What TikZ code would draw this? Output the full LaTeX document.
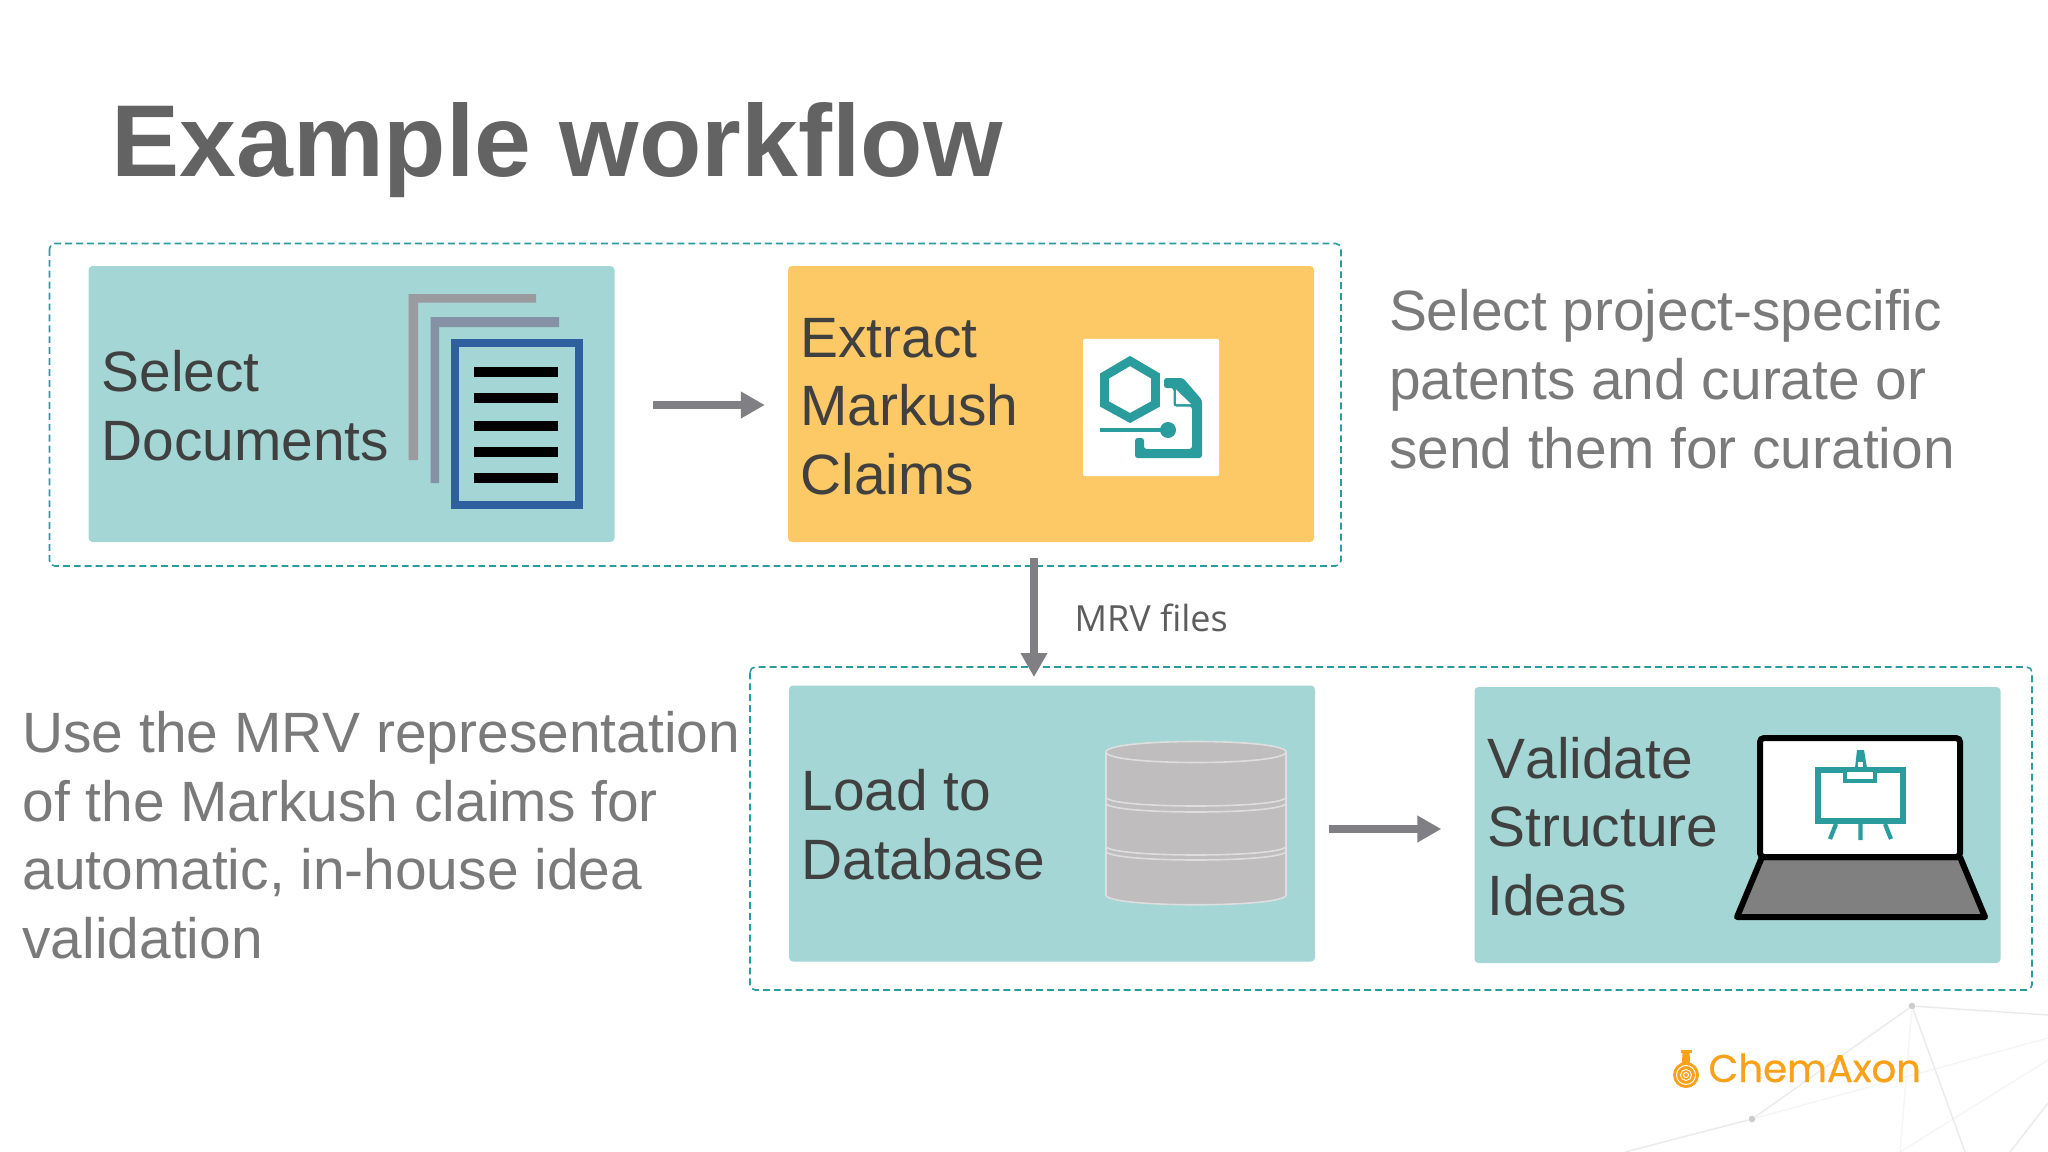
\documentclass[tikz,border=0pt]{standalone}
\usepackage{fontspec}
\setmainfont[Kerning=Off]{Liberation Sans}
\newfontfamily\mrvfont{Open Sans}
\newfontfamily\logofont[FakeBold=0.6]{Poppins}
\usetikzlibrary{arrows.meta}

\definecolor{boxteal}{HTML}{A3D6D5}
\definecolor{boxamber}{HTML}{FDC966}
\definecolor{iconteal}{HTML}{2A9C9E}
\definecolor{arrowgrey}{HTML}{808084}
\definecolor{sidegrey}{HTML}{7A7A7A}
\definecolor{boxtext}{HTML}{404040}
\definecolor{titlegrey}{HTML}{636363}
\definecolor{webgrey}{HTML}{EBEBEE}
\definecolor{logoamber}{HTML}{F9A11B}
\definecolor{sheetback}{HTML}{9A9A9F}
\definecolor{sheetmid}{HTML}{8592A5}
\definecolor{sheetblue}{HTML}{2F5F9E}
\definecolor{dbfill}{HTML}{BFBDBD}
\definecolor{dbline}{HTML}{DEDEDE}

\tikzset{every picture/.style={line width=0.75pt}}
\tikzset{
  stepbox/.style={draw=none,rounded corners=3pt,inner sep=0pt,minimum width=394.5pt,minimum height=207pt},
  groupbox/.style={draw=iconteal,line width=1.2pt,dash pattern=on 5.2pt off 3pt,rounded corners=4pt},
  flowarrow/.style={draw=arrowgrey,line width=6.5pt,-{Triangle[length=18pt,width=19pt]}},
  steplabel/.style={anchor=base west,inner sep=0pt,align=left,text=boxtext,font=\fontsize{42.65}{51.5}\selectfont},
  sidelabel/.style={anchor=base west,inner sep=0pt,align=left,text=sidegrey,font=\fontsize{42.65}{51.5}\selectfont},
  webline/.style={draw=webgrey,line width=1.1pt},
  webdot/.style={circle,fill=black!20,inner sep=0pt,minimum size=5pt},
  iconline/.style={draw=iconteal,line width=4.6pt},
  dbcurve/.style={draw=dbline,line width=1.2pt}
}

\begin{document}
\begin{tikzpicture}[x=0.75pt,y=0.75pt,yscale=-1,xscale=1]
\useasboundingbox (0,0) rectangle (2048,1152);

%Background web
\node [webdot] (webtop) at (1912,1006) {};
\node [webdot] (webleft) at (1752,1119) {};
\coordinate (webA) at (2048,1015);
\coordinate (webB) at (1625,1152);
\coordinate (webC) at (1965,1152);
\coordinate (webD) at (2048,1038);
\coordinate (webE) at (2048,1060);
\coordinate (webF) at (1900,1152);
\coordinate (webG) at (2048,1103);
\coordinate (webH) at (2010,1152);
\draw [webline] (webtop) -- (webleft) ;
\draw [webline] (webleft) -- (webB) ;
\draw [webline] (webtop) -- (webA) ;
\draw [webline] (webtop) -- (webC) ;
\draw [webline,draw opacity=0.5] (webtop) -- (webF) ;
\draw [webline,draw opacity=0.5] (webleft) -- (webD) ;
\draw [webline,draw opacity=0.5] (webE) -- (webF) ;
\draw [webline] (webG) -- (webH) ;

% Text Node
\node [anchor=base west,inner sep=0pt,text=titlegrey,font=\fontsize{76.6}{90}\selectfont\bfseries] (title) at (111,176) {Example workflow};

%Group frames
\draw [groupbox] (49.5,243.5) rectangle (1341,566) ;
\draw [groupbox] (750,667) rectangle (2032,990) ;

%Step boxes
\node [stepbox,fill=boxteal] (selectbox) at (351.5,404) {};
\node [stepbox,fill=boxamber] (extractbox) at (1051,404) {};
\node [stepbox,fill=boxteal] (loadbox) at (1052,823.5) {};
\node [stepbox,fill=boxteal] (validatebox) at (1737.5,825) {};

% Text Node
\node [steplabel] (selecttext) at (101,460) {Select\\Documents};
% Text Node
\node [steplabel] (extracttext) at (800,494.5) {Extract\\Markush\\Claims};
% Text Node
\node [steplabel] (loadtext) at (801,879) {Load to\\Database};
% Text Node
\node [steplabel] (validatetext) at (1487,915.5) {Validate\\Structure\\Ideas};
% Text Node
\node [sidelabel] (selectnote) at (1388.5,468) {Select project-specific\\patents and curate or\\send them for curation};
% Text Node
\node [sidelabel] (mrvnote) at (22,958.5) {Use the MRV representation\\of the Markush claims for\\automatic, in-house idea\\validation};
% Text Node
\node [anchor=base west,inner sep=0pt,text=boxtext!85,font=\mrvfont\fontsize{27}{30}\selectfont] (mrvlabel) at (1074,631) {MRV files};

%Arrows
\coordinate (extractout) at (1034,558);
\coordinate (loadin) at (1034,677);
\draw [flowarrow,shorten <=28.5pt,shorten >=17pt] (selectbox.east |- 0,405) -- (extractbox.west |- 0,405) ;
\draw [flowarrow] (extractout) -- (loadin) ;
\draw [flowarrow,shorten <=10pt,shorten >=24.5pt] (loadbox.east |- 0,829) -- (validatebox.west |- 0,829) ;

%Shape: Documents
\fill [sheetback] (408.5,294) -- (536,294) -- (536,302.5) -- (418,302.5) -- (418,460) -- (408.5,460) -- cycle ;
\fill [sheetmid] (430.5,317) -- (559,317) -- (559,327) -- (439,327) -- (439,483) -- (430.5,483) -- cycle ;
\draw [draw=sheetblue,line width=6pt,fill=boxteal] (455,343) rectangle (579,505) ;
\foreach \liney in {372,398,426,452,478} {
  \draw [line width=6.8pt] (474,\liney) -- (558,\liney) ;
}

%Shape: Markush icon
\node [fill=white,rounded corners=1.5pt,inner sep=0pt,minimum width=102pt,minimum height=103pt] (iconcard) at (1151,407.5) {};
\draw [draw=iconteal,line width=6.6pt] (1130,361) -- (1155.5,376) -- (1155.5,404) -- (1130,418) -- (1104.5,404) -- (1104.5,376) -- cycle ;
\fill [iconteal,rounded corners=2pt] (1164,378) -- (1183,378) -- (1202,400) -- (1202,458) -- (1135,458) -- (1135,438) -- (1144,438) -- (1144,449) -- (1192,449) -- (1192,406.5) -- (1173.5,406.5) -- (1173.5,388) -- (1164,388) -- cycle ;
\fill [white] (1176,389.5) -- (1176,404) -- (1191,404) -- cycle ;
\draw [draw=iconteal,line width=3pt] (1100,430) -- (1168,430) ;
\fill [iconteal] (1168,430) circle (8) ;

%Shape: Database
\draw [dbcurve,fill=dbfill] (1106,752) .. controls (1106,738) and (1286,738) .. (1286,752) -- (1286,895) .. controls (1286,908) and (1106,908) .. (1106,895) -- cycle ;
\draw [dbcurve] (1106,752) .. controls (1106,766) and (1286,766) .. (1286,752) ;
\foreach \bandy in {797,803,846,851} {
  \draw [dbcurve] (1106,\bandy) .. controls (1106,\bandy+12) and (1286,\bandy+12) .. (1286,\bandy) ;
}

%Shape: Laptop
\draw [line width=4.5pt,line join=round,fill={rgb,255:red,128;green,128;blue,128}] (1762,857) -- (1960,857) -- (1985,917) -- (1737,917) -- cycle ;
\draw [line width=4.5pt,rounded corners=3pt,fill=white] (1760,738) rectangle (1960,857) ;
\draw [iconline] (1818,770) rectangle (1903,821) ;
\draw [draw=iconteal,line width=3.6pt,fill=white] (1845,770) rectangle (1875,781) ;
\fill [iconteal] (1855,768) -- (1857,750) -- (1864,750) -- (1867,768) -- cycle ;
\fill [white] (1858,762) rectangle (1863,767) ;
\draw [draw=iconteal,line width=3.2pt] (1836,824) -- (1830,839) (1860.5,824) -- (1860.5,840) (1885,824) -- (1891,839) ;

%Shape: Logo flask
\node [anchor=base west,inner sep=0pt,text=logoamber,font=\logofont\fontsize{29}{32}\selectfont] (logotext) at (1708,1082) {ChemAxon};
\fill [logoamber] (1680.5,1050) rectangle (1691.5,1052.5) ;
\fill [logoamber] (1682.5,1050) -- (1689.5,1050) -- (1690,1064) -- (1682,1064) -- cycle ;
\fill [logoamber] (1686,1075) circle (13) ;
\draw [draw=white,line width=0.7pt] (1686,1075) circle (9.5) (1686,1075) circle (5.5) (1686,1075) circle (2.5) ;

\end{tikzpicture}
\end{document}
